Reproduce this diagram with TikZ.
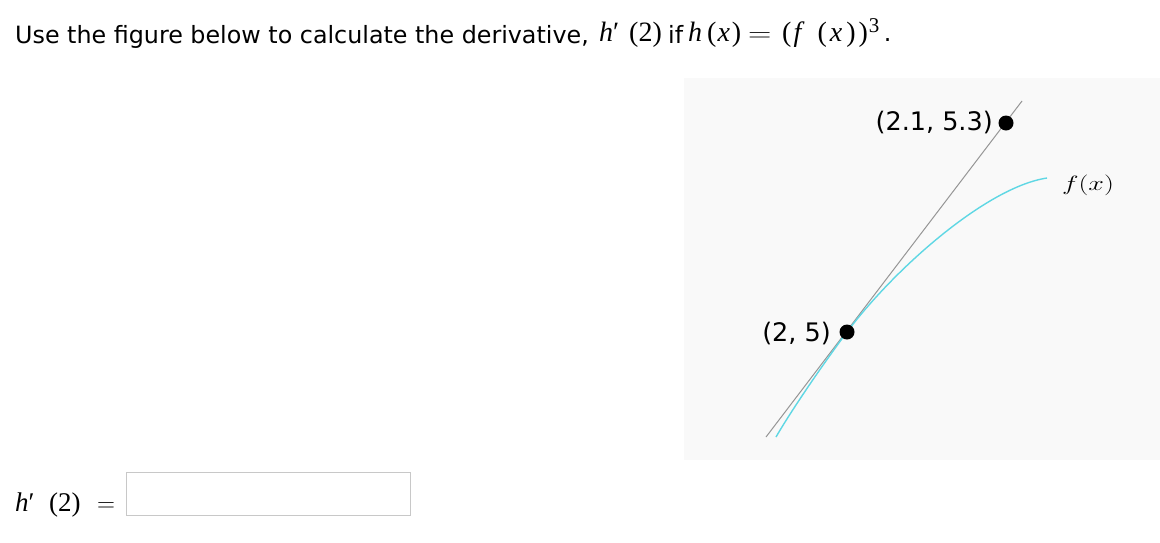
\documentclass[tikz,border=0pt]{standalone}
\usepackage{fontspec}
\usepackage{graphicx}
\setmainfont{DejaVu Sans}
\newfontfamily\tms{Liberation Serif}
\definecolor{panel}{RGB}{249,249,249}
\definecolor{tangray}{RGB}{150,150,150}
\definecolor{fcyan}{RGB}{95,215,228}
\definecolor{boxgray}{RGB}{200,200,200}
\begin{document}
\begin{tikzpicture}[x=1pt,y=-1pt,
  lbl/.style={font=\fontsize{25.5}{28}\selectfont, inner sep=0pt},
  dot/.style={circle,fill=black,minimum size=15pt,inner sep=0pt},
  tang/.style={draw=tangray,line width=1pt},
  fcurve/.style={draw=fcyan,line width=1.4pt},
  txt/.style={inner sep=0pt, anchor=base west},
  sans/.style={txt, font=\fontsize{23.8}{28}\selectfont},
  tm/.style={txt, font=\tms\fontsize{28}{30}\selectfont},
  tmb/.style={txt, font=\tms\fontsize{27}{30}\selectfont}]
\useasboundingbox (0,0) rectangle (1160,542);
\fill[panel] (684,78) rectangle (1160,460);
% question line
\node[sans] (q) at (15,43) {Use the figure below to calculate the derivative,};
\node[tm] (m1) at (599,41) {\textit{h}′};
\node[tm] (m2) at (629,41) {(2)};
\node[sans] (m3) at (668,43) {if};
\node[tm] (m4) at (688,41) {\textit{h}};
\node[tm] (m5) at (707,41) {(\kern1pt\textit{x}\kern2pt)};
\node[txt, font=\fontsize{26}{30}\selectfont] (m6) at (748,41) {\scalebox{1.3}[1]{$=$}};
\node[tm] (m7) at (782,41) {(\kern2pt\textit{f}\kern13pt(\kern3pt\textit{x}\kern4pt)\kern3pt)\kern1pt\raisebox{9pt}{\fontsize{21}{22}\selectfont 3}};
\node[sans] (m8) at (m7.base east) [anchor=base west, xshift=4pt] {.};
% graph
\coordinate (lb) at (766,437);
\coordinate (lt) at (1022,101);
\coordinate (cb) at (776,437);
\coordinate (ce) at (1047,178);
\coordinate (a) at (847,332);
\draw[tang] (lb) -- (lt);
\draw[fcurve] (cb) .. controls (791,411) and (823,364) .. (a) .. controls (895,268) and (987,187) .. (ce);
\node[dot] (p1) at (a) {};
\node[dot] (p2) at (1006,123) {};
\node[lbl, anchor=east] (l1) at (993,123) {(2.1, 5.3)};
\node[lbl, anchor=east] (l2) at (831,333) {(2, 5)};
\node[inner sep=0pt, font=\fontsize{22}{26}\selectfont] (lf) at (1088,185) {\scalebox{1.35}[1]{$f(x)$}};
% answer
\node[tmb] (b1) at (15,511) {\textit{h}′};
\node[tmb] (b2) at (49,511) {(2)};
\node[txt, font=\fontsize{27}{30}\selectfont] (b3) at (97,511) {$=$};
\node[draw=boxgray, line width=1pt, minimum width=284pt, minimum height=43pt, anchor=north west, inner sep=0pt] (ans) at (126,472) {};
\end{tikzpicture}
\end{document}
